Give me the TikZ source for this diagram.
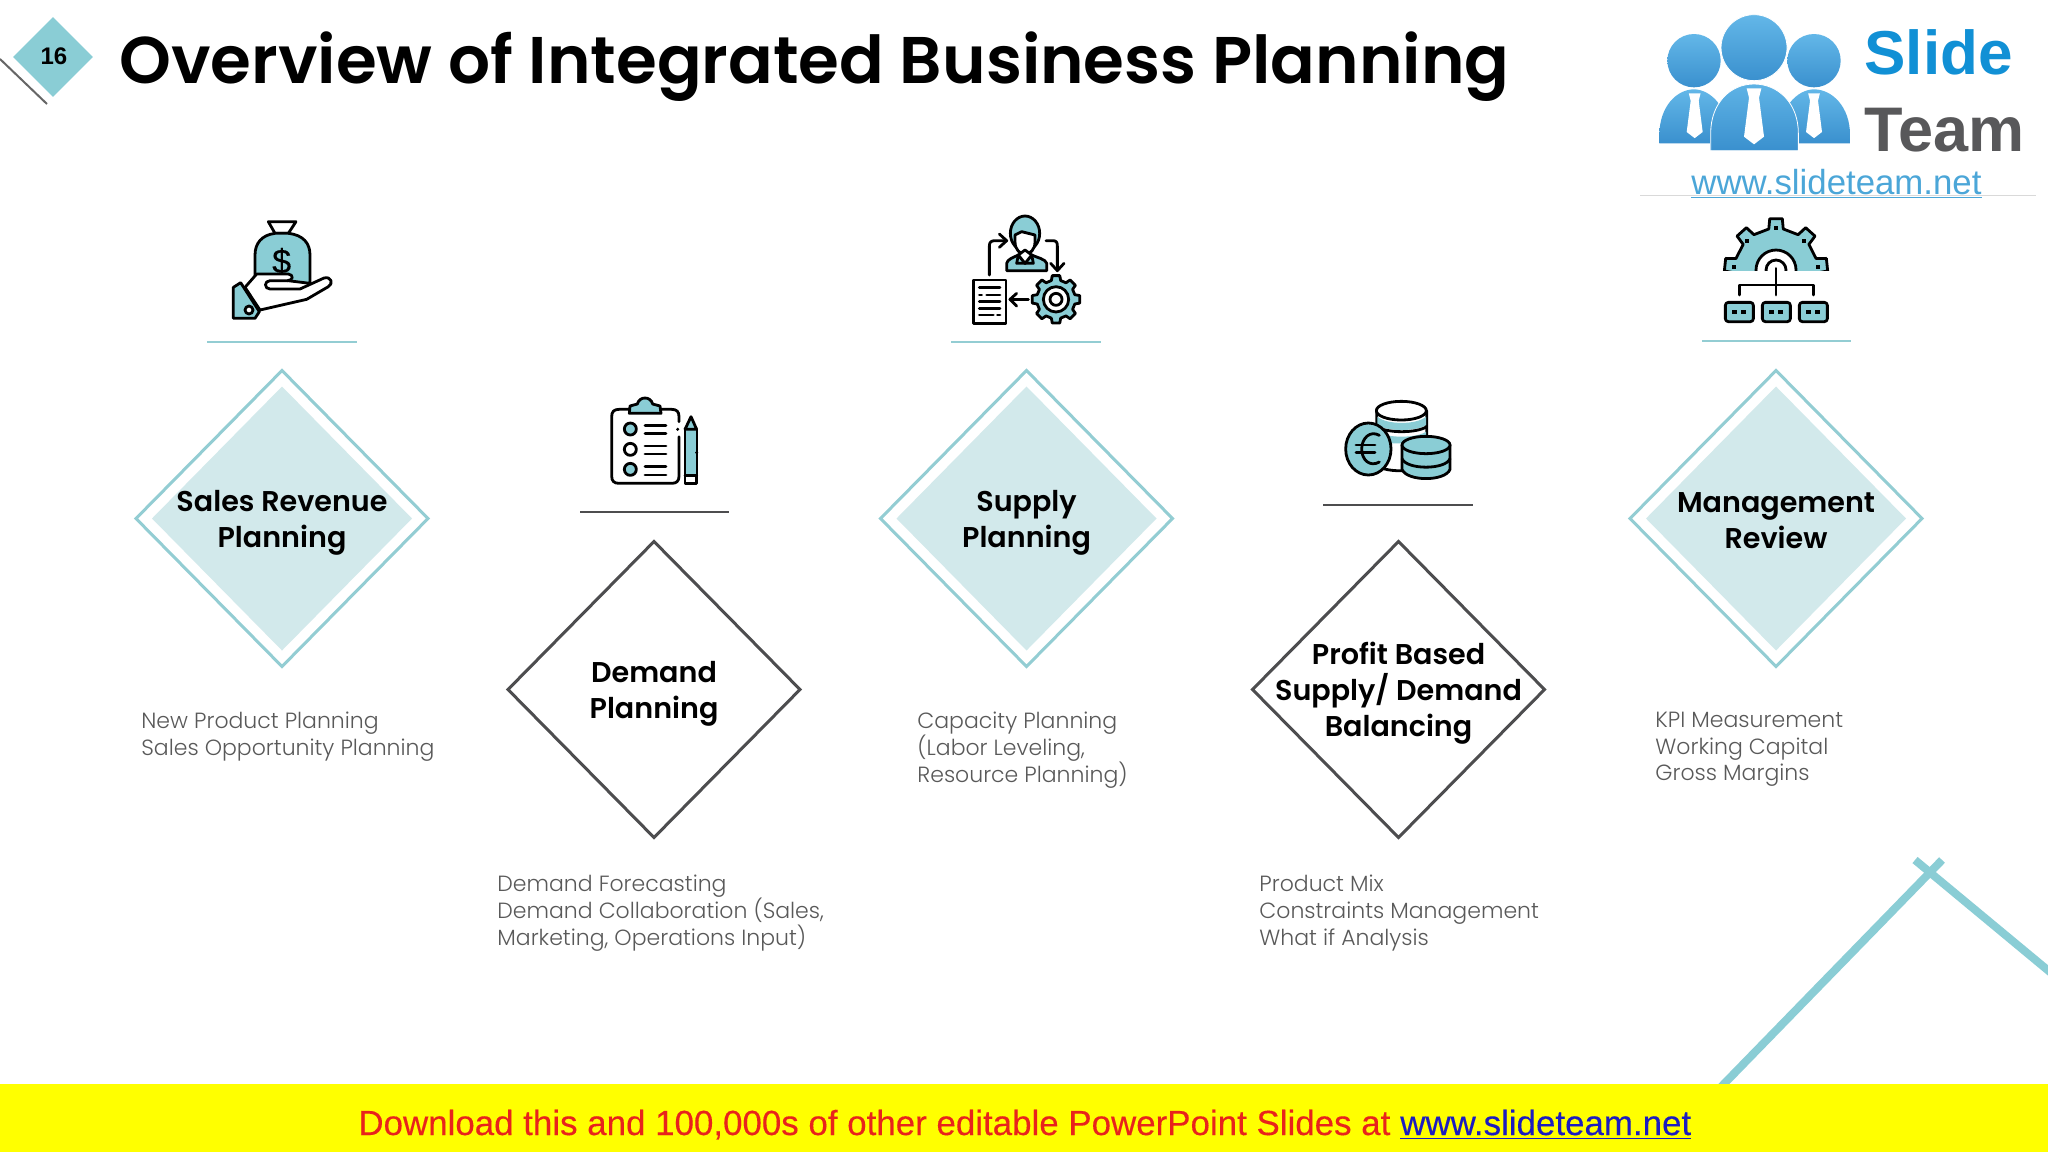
\documentclass[tikz,border=0pt]{standalone}
\usepackage{fontspec}
\setmainfont{Poppins}
\newfontfamily\arialf{Liberation Sans}
\newfontfamily\footf[FakeBold=0.25]{Liberation Sans}
\newfontfamily\lightf{Poppins Light}
\newfontfamily\semif{Poppins SemiBold}
\usetikzlibrary{shapes.geometric}
\definecolor{tealc}{HTML}{8ACDD5}
\definecolor{palec}{HTML}{D2E9EB}
\definecolor{edgec}{HTML}{93CDD3}
\definecolor{grayc}{HTML}{595959}
\definecolor{darkc}{HTML}{4D4D4F}
\definecolor{footred}{HTML}{E8231C}
\definecolor{footblue}{HTML}{1C1CC0}
\definecolor{logoa}{HTML}{63B7E8}
\definecolor{logob}{HTML}{3A90CE}
\definecolor{pureyellow}{HTML}{FFFF00}
\definecolor{slidec}{HTML}{1190D5}
\definecolor{teamc}{HTML}{58585A}
\definecolor{urlc}{HTML}{4BA6D8}
\tikzset{
  ic/.style={draw=black,line width=1.4pt,line join=round,line cap=round},
  bar/.style={line width=1.3pt},
  outerd/.style={diamond,aspect=1,inner sep=0pt,outer sep=0pt,minimum width=146pt,minimum height=148pt,line width=1.5pt,fill=white},
  innerd/.style={diamond,aspect=1,inner sep=0pt,outer sep=0pt,minimum width=130pt,minimum height=132pt,fill=palec},
  headt/.style={font=\semif\fontsize{14.3}{18}\selectfont,align=center,text=black,inner sep=0pt},
  bodyt/.style={font=\lightf\fontsize{11}{13.4}\selectfont,align=left,text=grayc,inner sep=0pt,anchor=north west},
  deco/.style={draw=tealc,line width=4pt},
}
\begin{document}
\begin{tikzpicture}[x=0.5pt,y=-0.5pt]
\useasboundingbox (0,0) rectangle (2048,1152);
\fill[white] (0,0) rectangle (2048,1152);

% decoration lines
\coordinate (dl) at (1718,1090);
\coordinate (dlt) at (1942,860);
\coordinate (dr) at (2056,977);
\coordinate (drt) at (1915,860);
\draw[deco] (dl) -- (dlt);
\draw[deco] (dr) -- (drt);

% footer
\fill[pureyellow] (0,1084) rectangle (2048,1152);
\node[anchor=base west,inner sep=0pt,font=\footf\fontsize{17.45}{20}\selectfont,text=footred] (foot) at (358,1135) {Download this and 100,000s of other editable PowerPoint Slides at \textcolor{footblue}{\underline{www.slideteam.net}}};

% badge and title
\coordinate (ba) at (0,59);
\coordinate (bb) at (47,104);
\draw[black!60,line width=1pt] (ba) -- (bb);
\node[diamond,aspect=1,inner sep=0pt,minimum width=40pt,minimum height=40pt,fill=tealc] (badge) at (53,57) {};
\node[inner sep=0pt,font=\arialf\bfseries\fontsize{12}{14}\selectfont] (num) at (54,56) {16};
\node[anchor=base west,inner sep=0pt,font=\semif\fontsize{33}{40}\selectfont] (title) at (119,83) {Overview of Integrated Business Planning};

% diamonds
\node[outerd,draw=edgec] (d1o) at (282,518.5) {};
\node[innerd] (d1i) at (282,518.5) {};
\node[headt] (d1t) at (282,523) {Sales Revenue\\Planning};
\node[outerd,draw=darkc] (d2o) at (654,689.5) {};
\node[headt] (d2t) at (654,694) {Demand\\Planning};
\node[outerd,draw=edgec] (d3o) at (1026.5,518.5) {};
\node[innerd] (d3i) at (1026.5,518.5) {};
\node[headt] (d3t) at (1026.5,523) {Supply\\Planning};
\node[outerd,draw=darkc] (d4o) at (1398.5,689.5) {};
\node[headt] (d4t) at (1398.5,693) {Profit Based\\Supply/ Demand\\Balancing};
\node[outerd,draw=edgec] (d5o) at (1776,518.5) {};
\node[innerd] (d5i) at (1776,518.5) {};
\node[headt] (d5t) at (1776,520.5) {Management\\Review};

% body text
\node[bodyt] (b1) at (141,711.5) {New Product Planning\\Sales Opportunity Planning};
\node[bodyt] (b2) at (497,874.5) {Demand Forecasting\\Demand Collaboration (Sales,\\Marketing, Operations Input)};
\node[bodyt] (b3) at (917,711.5) {Capacity Planning\\(Labor Leveling,\\Resource Planning)};
\node[bodyt] (b4) at (1259,874.5) {Product Mix\\Constraints Management\\What if Analysis};
\node[bodyt] (b5) at (1655,711.5) {KPI Measurement\\Working Capital\\Gross Margins};

% rules under the icons
\draw[edgec,bar] (207,342) -- (357,342);
\draw[darkc,bar] (580,512) -- (729,512);
\draw[edgec,bar] (951,342) -- (1101,342);
\draw[darkc,bar] (1323,505) -- (1473,505);
\draw[edgec,bar] (1702,341) -- (1851,341);

% icon 1: money bag in hand
\begin{scope}[shift={(200,200)},x=0.16667pt,y=-0.16667pt]
  \draw[ic,fill=white] (205,65) -- (288,65) -- (265,100) -- (225,100) -- cycle;
  \draw[ic,fill=tealc] (225,100) .. controls (185,105) and (165,130) .. (165,165) -- (165,230) -- (330,250) -- (330,165) .. controls (330,130) and (310,105) .. (265,100) -- cycle;
  \node[inner sep=0pt,font=\footf\fontsize{17}{18}\selectfont] (dollar) at (245,185) {\$};
  \draw[ic,fill=white] (135,262) -- (170,222) -- (265,222) .. controls (282,224) and (280,242) .. (262,242) -- (210,242) .. controls (192,242) and (192,267) .. (210,267) -- (300,267) -- (372,234) .. controls (395,228) and (400,252) .. (385,260) -- (320,298) -- (180,330) -- cycle;
  \draw[ic,fill=tealc] (100,262) -- (122,248) -- (178,335) -- (165,355) -- (100,355) -- cycle;
  \draw[ic,fill=white] (147,330) circle [radius=12];
\end{scope}

% icon 2: clipboard and pencil
\begin{scope}[shift={(580,380)},x=0.16667pt,y=-0.16667pt]
  \draw[ic] (297,125) -- (297,110) .. controls (297,95) and (290,88) .. (275,88) -- (117,88) .. controls (102,88) and (95,95) .. (95,110) -- (95,288) .. controls (95,303) and (102,310) .. (117,310) -- (275,310) .. controls (290,310) and (297,303) .. (297,288) -- (297,170);
  \fill (293,148) circle [radius=5];
  \draw[ic,fill=tealc] (148,100) -- (150,78) -- (172,72) .. controls (178,48) and (212,48) .. (218,72) -- (240,78) -- (243,100) -- cycle;
  \draw[ic,fill=tealc] (151,147) circle [radius=18];
  \draw[ic,fill=white] (151,208) circle [radius=18];
  \draw[ic,fill=tealc] (151,268) circle [radius=18];
  \foreach \yy in {136,160,198,222,260,285} {\draw[ic] (195,\yy) -- (258,\yy);}
  \draw[ic,fill=white] (315,148) -- (350,148) -- (350,310) -- (315,310) -- cycle;
  \fill[tealc] (318,150) rectangle (347,285);
  \draw[ic,fill=tealc] (315,148) -- (333,110) -- (350,148) -- cycle;
  \draw[ic] (315,287) -- (350,287);
  \draw[ic] (315,148) -- (315,287);
  \fill (350,218) circle [radius=5];
\end{scope}

% icon 3: person, document, gear cycle
\begin{scope}[shift={(950,200)},x=0.16667pt,y=-0.16667pt]
  \draw[ic,fill=tealc] (225,100) ellipse [x radius=44,y radius=52];
  \draw[ic,fill=white] (195,105) -- (215,95) -- (255,105) -- (255,125) .. controls (255,150) and (240,162) .. (225,162) .. controls (210,162) and (195,150) .. (195,125) -- cycle;
  \draw[ic,fill=tealc] (170,212) -- (170,190) .. controls (172,178) and (190,172) .. (205,165) -- (225,190) -- (245,165) .. controls (260,172) and (288,178) .. (290,190) -- (290,212) -- cycle;
  \draw[ic,fill=white] (205,165) -- (225,190) -- (245,165) -- (225,150) -- cycle;
  \draw[ic] (205,165) -- (200,190) -- (225,190) -- (250,190) -- (245,165);
  \draw[ic] (118,225) -- (118,138) .. controls (118,126) and (124,122) .. (135,122) -- (170,122);
  \draw[ic] (148,102) -- (170,122) -- (148,142);
  \draw[ic] (288,122) -- (308,122) .. controls (318,122) and (322,126) .. (322,138) -- (322,212);
  \draw[ic] (302,190) -- (322,212) -- (342,190);
  \draw[ic] (235,298) -- (180,298);
  \draw[ic] (200,280) -- (180,298) -- (200,318);
  \draw[ic,fill=white] (70,240) rectangle (168,370);
  \foreach \yy/\xa/\xb in {262/88/150,285/88/95,285/110/150,305/88/150,325/88/150,345/88/130,345/142/150} {\draw[ic] (\xa,\yy) -- (\xb,\yy);}
  \begin{scope}[shift={(318,298)}]
    \draw[ic,fill=tealc] (-14:58) \foreach \a in {0,45,...,315} { -- ({\a-14}:58) -- ({\a-9}:72) -- ({\a+9}:72) -- ({\a+14}:58)} -- cycle;
    \draw[ic,fill=white] (0,0) circle [radius=38];
    \draw[ic,fill=white] (0,0) circle [radius=18];
  \end{scope}
\end{scope}

% icon 4: coins
\begin{scope}[shift={(1320,380)},x=0.16667pt,y=-0.16667pt]
  \draw[ic,fill=white] (170,92) -- (170,250) .. controls (170,280) and (320,280) .. (320,250) -- (320,92) -- cycle;
  \fill[tealc] (172,110) .. controls (200,135) and (290,135) .. (318,110) -- (318,135) .. controls (290,155) and (200,155) .. (172,135) -- cycle;
  \fill[tealc] (172,155) .. controls (200,175) and (290,175) .. (318,155) -- (318,190) -- (172,190) -- cycle;
  \draw[ic] (170,140) .. controls (200,160) and (290,160) .. (320,140);
  \draw[ic,fill=white] (244,92) ellipse [x radius=75,y radius=28];
  \draw[ic,fill=tealc] (246,195) -- (246,268) .. controls (260,305) and (376,305) .. (390,268) -- (390,195) -- cycle;
  \draw[ic,fill=tealc] (318,195) ellipse [x radius=72,y radius=26];
  \draw[ic] (246,236) .. controls (260,270) and (376,270) .. (390,236);
  \draw[ic,fill=tealc] (145,207) ellipse [x radius=68,y radius=78];
  \draw[ic] (178,166) .. controls (150,150) and (125,175) .. (125,207) .. controls (125,240) and (150,262) .. (178,246);
  \draw[ic] (108,195) -- (165,195);
  \draw[ic] (108,218) -- (165,218);
\end{scope}

% icon 5: gear and org chart
\begin{scope}[shift={(1620,0)},x=0.16667pt,y=-0.16667pt]
  \begin{scope}
    \clip (280,620) rectangle (660,810);
    \begin{scope}[shift={(468,810)}]
      \draw[ic,fill=tealc] (176:125) \foreach \a in {186,228,270,312,354} { -- ({\a-10}:125) -- ({\a-7}:155) -- ({\a+7}:155) -- ({\a+10}:125)} -- cycle;
      \draw[ic,fill=white] (0,0) circle [radius=60];
      \draw[ic,fill=white] (0,0) circle [radius=30];
    \end{scope}
  \end{scope}
  \foreach \xx/\yy in {468/685,382/722,552/722,343/802,595/802} {\fill (\xx-6,\yy-6) rectangle (\xx+6,\yy+6);}
  \draw[ic] (468,805) -- (468,885);
  \draw[ic] (358,885) -- (358,855) -- (580,855) -- (580,885);
  \foreach \xx in {358,469,580} {
    \draw[ic,fill=tealc,rounded corners=1.5pt] (\xx-42,907) rectangle (\xx+42,965);
    \fill (\xx-22,930) rectangle (\xx-8,942);
    \fill (\xx+6,930) rectangle (\xx+20,942);
  }
\end{scope}

% logo
\begin{scope}[shift={(1620,0)},x=0.16667pt,y=-0.16667pt]
  \shade[top color=logoa,bottom color=logob] (118,430) -- (118,405) .. controls (118,320) and (170,268) .. (222,268) .. controls (270,268) and (330,320) .. (330,430) -- cycle;
  \shade[top color=logoa,bottom color=logob] (690,430) -- (690,405) .. controls (690,320) and (636,268) .. (582,268) .. controls (534,268) and (474,320) .. (474,430) -- cycle;
  \shade[top color=logoa,bottom color=logob] (222,182) circle [radius=80];
  \shade[top color=logoa,bottom color=logob] (582,182) circle [radius=80];
  \shade[top color=logoa,bottom color=logob,draw=white,line width=0.4pt] (402,143) circle [radius=99];
  \path[draw=white,line width=0.4pt,top color=logoa!90!logob,bottom color=logob] (272,452) -- (272,400) .. controls (272,310) and (330,252) .. (402,252) .. controls (475,252) and (535,310) .. (535,400) -- (535,452) -- cycle;
  \foreach \xx/\yt/\ys in {402/265/1,224/280/0.8,582/280/0.8} {
    \fill[white] (\xx-22*\ys,\yt) -- (\xx+22*\ys,\yt) -- (\xx+15*\ys,\yt+28*\ys) -- (\xx+30*\ys,\yt+145*\ys) -- (\xx,\yt+168*\ys) -- (\xx-30*\ys,\yt+145*\ys) -- (\xx-15*\ys,\yt+28*\ys) -- cycle;
  }
\end{scope}
\node[anchor=base west,inner sep=0pt,font=\arialf\bfseries\fontsize{31}{34}\selectfont,text=slidec] (lslide) at (1864,74) {Slide};
\node[anchor=base west,inner sep=0pt,font=\arialf\bfseries\fontsize{31.5}{34}\selectfont,text=teamc] (lteam) at (1864,151) {Team};
\draw[black!15,line width=0.5pt] (1640,195) -- (2036,195);
\node[anchor=base west,inner sep=0pt,font=\arialf\fontsize{17.4}{20}\selectfont,text=urlc] (lurl) at (1691,194) {\underline{www.slideteam.net}};
\end{tikzpicture}
\end{document}
